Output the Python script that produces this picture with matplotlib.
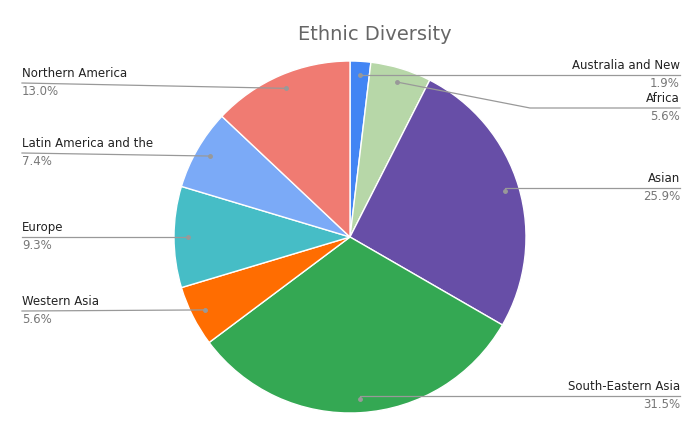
import numpy as np
import matplotlib
matplotlib.use("Agg")
import matplotlib.pyplot as plt

labels = ["Australia and New", "Africa", "Asian", "South-Eastern Asia",
          "Western Asia", "Europe", "Latin America and the", "Northern America"]
values = [1.9, 5.6, 25.9, 31.5, 5.6, 9.3, 7.4, 13.0]
colors = ["#4285f4", "#b7d7a8", "#674ea7", "#34a853",
          "#ff6d01", "#46bdc6", "#7baaf7", "#f07b72"]

# label layout: (line y in pixels, side)
label_y = [75, 108, 188, 396, 311, 237, 153, 83]
side = ["r", "r", "r", "r", "l", "l", "l", "l"]

fig = plt.figure(figsize=(7, 4.33), dpi=100)
ax = fig.add_axes([0, 0, 1, 1])

cx, cy, r = 350, 237, 176
# y axis is inverted, so counterclockwise in data is clockwise on screen
ax.pie(values, colors=colors, startangle=-90, counterclock=True,
       center=(cx, cy), radius=r, frame=True,
       wedgeprops=dict(edgecolor="white", linewidth=1))
ax.set_xlim(0, 700)
ax.set_ylim(433, 0)
ax.axis("off")

total = sum(values)
cum = 0
for lab, v, ly, s in zip(labels, values, label_y, side):
    mid = -90 + 360 * (cum + v / 2) / total
    cum += v
    a = np.radians(mid)
    px = cx + 0.92 * r * np.cos(a)
    py = cy + 0.92 * r * np.sin(a)
    ax.plot(px, py, "o", ms=2.5, color="#999999", zorder=5)
    if s == "r":
        ex = 530 if abs(py - ly) > 10 else px
        ax.plot([px, ex, 680], [py, ly, ly], color="#999999", lw=0.9, zorder=4)
        ax.text(680, ly - 3, lab, ha="right", va="bottom", fontsize=8.5, color="#222222")
        ax.text(680, ly + 2, f"{v:.1f}%", ha="right", va="top", fontsize=8.5, color="#777777")
    else:
        ax.plot([px, 22], [py, ly], color="#999999", lw=0.9, zorder=4)
        ax.text(22, ly - 3, lab, ha="left", va="bottom", fontsize=8.5, color="#222222")
        ax.text(22, ly + 2, f"{v:.1f}%", ha="left", va="top", fontsize=8.5, color="#777777")

ax.text(375, 35, "Ethnic Diversity", ha="center", va="center", fontsize=14, color="#666666")

fig.savefig("out.png", dpi=100)
